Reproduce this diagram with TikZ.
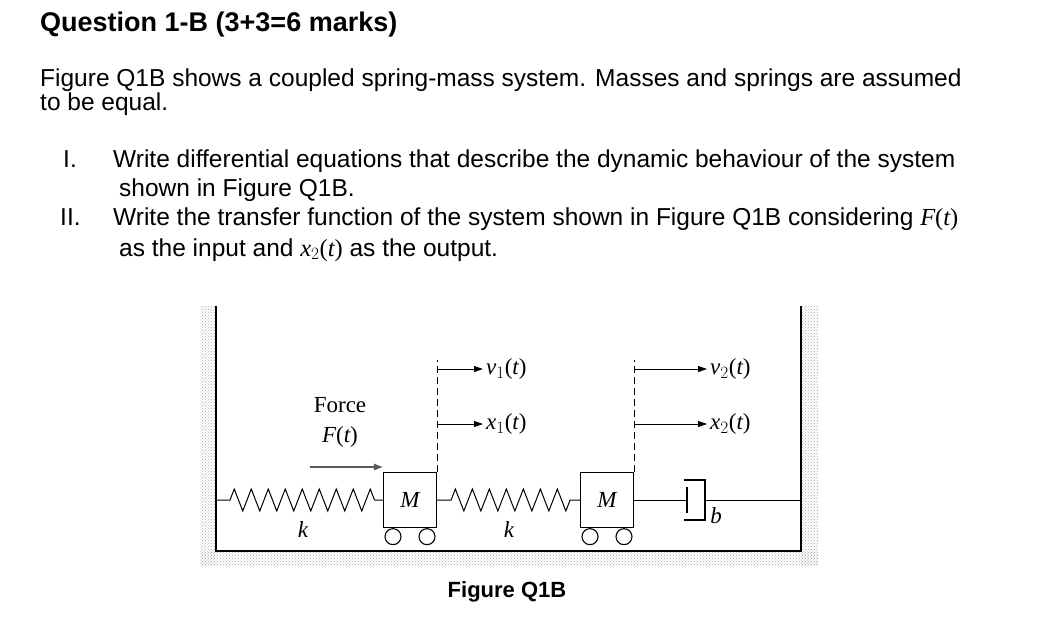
\documentclass[tikz,border=0pt]{standalone}
\usepackage{fontspec}
\setmainfont{Liberation Sans}
\newfontfamily\tms{Liberation Serif}
\usetikzlibrary{decorations.pathmorphing,patterns,arrows.meta}
\begin{document}
\begin{tikzpicture}[x=1pt,y=-1pt,
  txt/.style={anchor=base west,inner sep=0,font=\fontsize{24.5}{28}\selectfont},
  ser/.style={inner sep=0,font=\tms\fontsize{23}{26}\selectfont},
  massbox/.style={draw,line width=1.2pt,minimum width=53pt,minimum height=55pt,inner sep=0,font=\tms\itshape\fontsize{23}{26}\selectfont},
  wheel/.style={draw,line width=1.1pt,circle,minimum size=16pt,inner sep=0},
  spr/.style={line width=1pt,decorate,decoration={zigzag,segment length=17pt,amplitude=11pt,pre length=14pt,post length=8pt}},
  dsh/.style={dashed,dash pattern=on 7pt off 4pt},
  arr/.style={-{Triangle[length=9pt,width=6pt]}}]
\useasboundingbox (0,0) rectangle (1038,632);
\fill[white] (0,0) rectangle (1038,632);
\node[txt,font=\bfseries\fontsize{27}{30}\selectfont] (t) at (40,31) {Question 1-B (3+3=6 marks)};
\node[txt] (p1) at (40,86) {Figure Q1B shows a coupled spring-mass system. Masses and springs are assumed};
\node[txt] (p2) at (40,110) {to be equal.};
\node[txt] (n1) at (63,167) {I.};
\node[txt] (l1) at (113,167) {Write differential equations that describe the dynamic behaviour of the system};
\node[txt] (l1b) at (119,196) {shown in Figure Q1B.};
\node[txt] (n2) at (60,225) {II.};
\node[txt] (l2) at (113,225) {Write the transfer function of the system shown in Figure Q1B considering {\tms\itshape F}{\tms(}{\tms\itshape t}{\tms)}};
\node[txt] (l2b) at (119,256) {as the input and {\tms\itshape x}{\tms$_2$(}{\tms\itshape t}{\tms)} as the output.};
% walls and floor
\fill[pattern=crosshatch dots,pattern color=gray!70] (200,306) rectangle (216,565);
\fill[pattern=crosshatch dots,pattern color=gray!70] (801,306) rectangle (818,565);
\fill[pattern=crosshatch dots,pattern color=gray!70] (200,551) rectangle (818,565);
\draw[line width=1.5pt] (216,306) -- (216,551) -- (801,551) -- (801,306);
% masses
\node[massbox] (m1) at (410,500) {M};
\node[massbox] (m2) at (607,500) {M};
\foreach \m in {1,2}{
  \node[wheel,anchor=north] (w\m a) at ([xshift=-17pt]m\m.south) {};
  \node[wheel,anchor=north] (w\m b) at ([xshift=17pt]m\m.south) {};}
\coordinate (wl) at (216,500);
\coordinate (wr) at (801,500);
\draw[spr] (wl) -- (m1.west);
\draw[spr] (m1.east) -- (m2.west);
\node[ser,font=\tms\itshape\fontsize{23}{26}\selectfont] (k1) at (303,530) {k};
\node[ser,font=\tms\itshape\fontsize{23}{26}\selectfont] (k2) at (509,530) {k};
% damper
\coordinate (d1) at (687,500);
\draw[line width=1pt] (m2.east) -- (d1);
\draw[line width=1.4pt] (687,487) -- (687,513);
\draw[line width=1.4pt] (684,480) -- (705,480) -- (705,520) -- (684,520);
\draw[line width=1pt] (705,500) -- (wr);
\node[ser,font=\tms\itshape\fontsize{23}{26}\selectfont] (b) at (716,516) {b};
% force
\node[ser] (force) at (340,405) {Force};
\node[ser] (ft) at (340,437) {\itshape F\upshape(\itshape t\upshape)};
\coordinate (fa) at (310,467);
\draw[arr,line width=2.5pt,gray!70!black] (fa) -- (fa -| m1.west);
% dashed and arrows
\foreach \m in {1,2}{
  \path (m\m.north east) ++(0,-112) coordinate (top\m);
  \draw[dsh,line width=0.9pt] (m\m.north east) -- (top\m);
}
\node[ser,anchor=west] (v1) at (486,369) {\itshape v\upshape$_1$(\itshape t\upshape)};
\node[ser,anchor=west] (x1) at (486,424) {\itshape x\upshape$_1$(\itshape t\upshape)};
\node[ser,anchor=west] (v2) at (710,369) {\itshape v\upshape$_2$(\itshape t\upshape)};
\node[ser,anchor=west] (x2) at (710,424) {\itshape x\upshape$_2$(\itshape t\upshape)};
\draw[arr,line width=0.9pt] (top1 |- v1.west) -- ([xshift=-3pt]v1.west);
\draw[arr,line width=0.9pt] (top1 |- x1.west) -- ([xshift=-3pt]x1.west);
\draw[arr,line width=0.9pt] (top2 |- v2.west) -- ([xshift=-3pt]v2.west);
\draw[arr,line width=0.9pt] (top2 |- x2.west) -- ([xshift=-3pt]x2.west);
\node[txt,font=\bfseries\fontsize{22}{26}\selectfont,anchor=base] (cap) at (507,597) {Figure Q1B};
\end{tikzpicture}
\end{document}
